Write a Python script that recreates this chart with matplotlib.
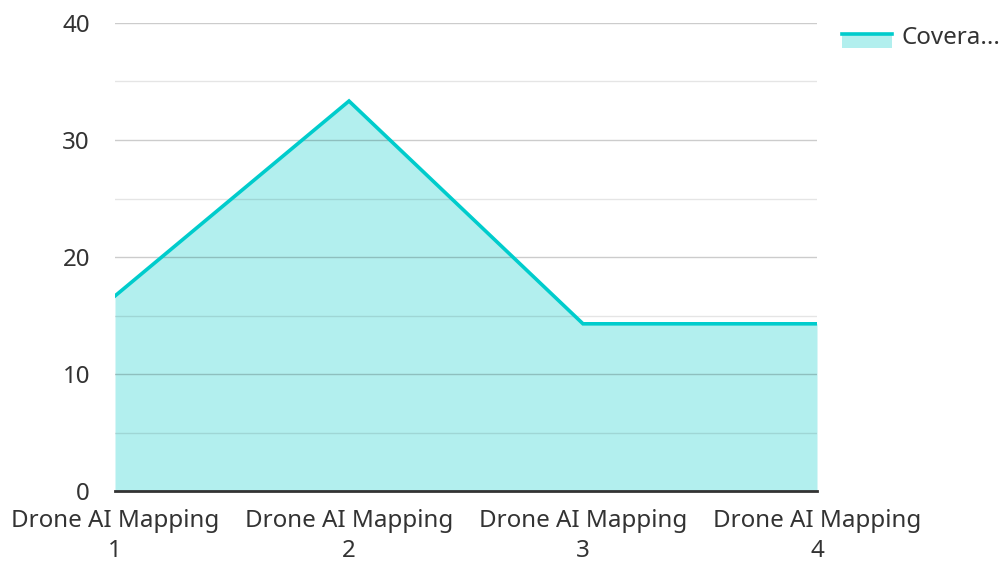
import matplotlib
matplotlib.use("Agg")
import matplotlib.pyplot as plt
from matplotlib.lines import Line2D
from matplotlib.patches import Rectangle
from matplotlib.legend_handler import HandlerBase

plt.rcParams['font.family'] = ['Noto Sans', 'DejaVu Sans']

categories = ["Drone AI Mapping\n1", "Drone AI Mapping\n2", "Drone AI Mapping\n3", "Drone AI Mapping\n4"]
values = [16.67, 33.33, 14.29, 14.29]
series_name = "Covera..."
major_ticks = [0, 10, 20, 30, 40]
minor_ticks = [5, 15, 25, 35]

line_color = "#00CCCC"
fill_color = "#B2EFEE"
text_color = "#333333"
fs = 17.4

fig = plt.figure(figsize=(10.03, 5.61), dpi=100)
ax = fig.add_axes([115/1003, 1-491/561, (817-115)/1003, (491-23)/561])

x = list(range(len(values)))
ax.fill_between(x, values, 0, color=fill_color, zorder=1, linewidth=0)
ax.plot(x, values, color=line_color, linewidth=2.6, zorder=3, solid_joinstyle='miter')

ax.set_xlim(0, len(values) - 1)
ax.set_ylim(0, 40)
ax.set_yticks(major_ticks)
ax.set_yticks(minor_ticks, minor=True)
ax.grid(axis='y', which='major', color='#000000', alpha=0.2, linewidth=1, zorder=2)
ax.grid(axis='y', which='minor', color='#000000', alpha=0.1, linewidth=1, zorder=2)
ax.set_axisbelow(False)
for s in ['top', 'right', 'left']:
    ax.spines[s].set_visible(False)
ax.spines['bottom'].set_color(text_color)
ax.spines['bottom'].set_linewidth(2)
ax.spines['bottom'].set_zorder(4)

ax.set_xticks(x)
ax.set_xticklabels(categories, fontsize=fs, color=text_color, linespacing=1.33)
ax.tick_params(axis='x', length=0, pad=13)
ax.tick_params(axis='y', which='both', length=0, pad=18, labelsize=fs, labelcolor=text_color)


class AreaHandler(HandlerBase):
    def create_artists(self, legend, orig_handle, xdescent, ydescent, width, height, fontsize, trans):
        mid = -ydescent + height / 2.0 + 1.0
        rect = Rectangle((-xdescent, mid - 10.0), width, 10.0,
                         facecolor=fill_color, edgecolor='none', transform=trans)
        ln = Line2D([-xdescent, -xdescent + width], [mid, mid],
                    color=line_color, linewidth=2.6, transform=trans)
        return [rect, ln]


proxy = Rectangle((0, 0), 1, 1)
leg = fig.legend([proxy], [series_name], loc='upper left', bbox_to_anchor=(842/1003, 1-26/561),
                 frameon=False, fontsize=fs, handlelength=2.06, handleheight=0.7, handletextpad=0.41,
                 borderpad=0, borderaxespad=0,
                 handler_map={Rectangle: AreaHandler()})
for t in leg.get_texts():
    t.set_color(text_color)

fig.savefig("out.png", dpi=100)
